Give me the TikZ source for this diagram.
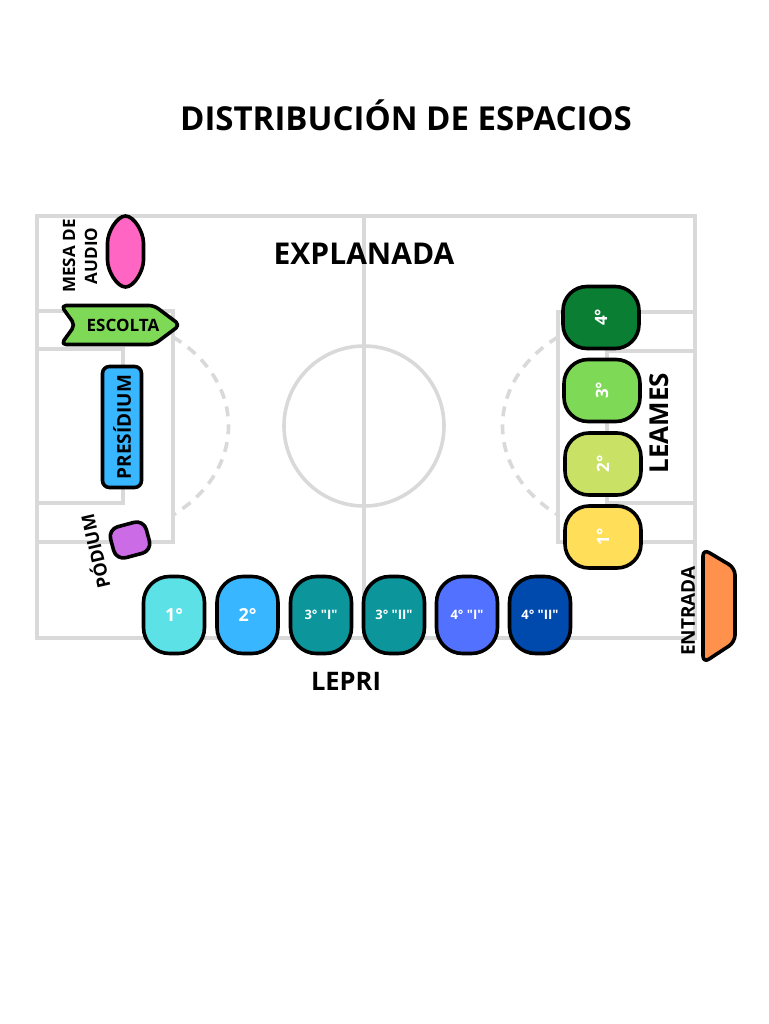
\documentclass[tikz,border=0pt]{standalone}
\usepackage{fontspec}
\setmainfont{Open Sans}[Ligatures=TeXOff]
\definecolor{linea}{HTML}{D9D9D9}
\definecolor{aqua}{HTML}{5CE1E6}
\definecolor{cielo}{HTML}{38B6FF}
\definecolor{petroleo}{HTML}{0C969C}
\definecolor{anil}{HTML}{5271FF}
\definecolor{marino}{HTML}{004AAD}
\definecolor{bosque}{HTML}{0A7F33}
\definecolor{pasto}{HTML}{7ED957}
\definecolor{lima}{HTML}{C9E265}
\definecolor{amarillo}{HTML}{FFDE59}
\definecolor{rosa}{HTML}{FF66C4}
\definecolor{lila}{HTML}{CB6CE6}
\definecolor{naranja}{HTML}{FF914D}
\tikzset{
	cancha/.style={draw=linea, line width=3.6pt},
	contorno/.style={draw=black, line width=3.6pt, line join=round},
	grupo/.style={contorno, rounded corners=26pt, font=\bfseries\fontsize{13}{13}\selectfont, text=white, inner sep=0pt},
	etiqueta/.style={font=\bfseries, text=black, inner sep=0pt, align=center}
}
\begin{document}
\begin{tikzpicture}[x=1pt, y=-1pt]
	\path [use as bounding box] (0,0) rectangle (768,1024);

	\node (titulo) at (406,115) [etiqueta] {\fontsize{33}{33}\selectfont DISTRIBUCIÓN DE ESPACIOS};

	% cancha
	\draw [cancha] (37,216) rectangle (695,638);
	\draw [cancha] (364,216) -- (364,638);
	\draw [cancha] (364,426) circle (80);
	\draw [cancha] (37,311) -- (173,311) -- (173,542) -- (37,542);
	\draw [cancha] (37,349) -- (123,349) -- (123,503) -- (37,503);
	\draw [cancha] (695,312) -- (558,312) -- (558,542) -- (695,542);
	\draw [cancha] (695,351) -- (607,351) -- (607,503) -- (695,503);
	\draw [cancha, dash pattern=on 10pt off 8pt] (173,337) .. controls (247,382) and (247,470) .. (173,515);
	\draw [cancha, dash pattern=on 10pt off 8pt] (558,337) .. controls (484,382) and (484,470) .. (558,515);

	\node (explanada) at (364,254) [etiqueta] {\fontsize{30}{30}\selectfont EXPLANADA};
	\node (lepri) at (346,681) [etiqueta] {\fontsize{25.5}{25.5}\selectfont LEPRI};
	\node (leames) at (659,423) [etiqueta, rotate=90] {\fontsize{26}{26}\selectfont LEAMES};

	% lepri
	\foreach \x/\nombre/\tono/\texto in {
		174/lepria/aqua/{\fontsize{18}{18}\selectfont 1°},
		247.5/leprib/cielo/{\fontsize{18}{18}\selectfont 2°},
		321/lepric/petroleo/3° "I",
		394/leprid/petroleo/3° "II",
		467/leprie/anil/4° "I",
		540/leprif/marino/4° "II"}
		\node (\nombre) at (\x,615) [grupo, fill=\tono, minimum width=61pt, minimum height=77pt] {\texto};

	% leames
	\foreach \x/\y/\nombre/\tono/\texto in {
		601/317.5/leamesd/bosque/4°,
		602/390.5/leamesc/pasto/3°,
		603/464/leamesb/lima/2°,
		603/537/leamesa/amarillo/1°}
		\node (\nombre) at (\x,\y) [grupo, fill=\tono, minimum width=76pt, minimum height=62pt, rounded corners=24pt] {\rotatebox{90}{\fontsize{17}{17}\selectfont\texto}};

	% izquierda
	\draw [contorno, fill=rosa]
		(125.5,216) .. controls (134,216) and (143.5,232) .. (143.5,243) -- (143.5,260)
		.. controls (143.5,271) and (134,287) .. (125.5,287)
		.. controls (117,287) and (107.5,271) .. (107.5,260) -- (107.5,243)
		.. controls (107.5,232) and (117,216) .. cycle;
	\node (mesa) at (80,256) [etiqueta, rotate=90, font=\bfseries\fontsize{17}{22}\selectfont] {MESA DE\\AUDIO};

	\draw [contorno, fill=pasto, rounded corners=5pt]
		(61,305.5) -- (154,305.5) -- (180,325) -- (154,344.5) -- (61,344.5) -- (75,325) -- cycle;
	\node (escolta) at (123,325) [etiqueta] {\fontsize{17}{17}\selectfont ESCOLTA};

	\node (presidium) at (122,427) [grupo, fill=cielo, minimum width=39pt, minimum height=121pt, rounded corners=7pt] {};
	\node (presidiumtexto) at (presidium) [etiqueta, rotate=90] {\fontsize{19}{19}\selectfont PRESÍDIUM};

	\node (podium) at (130,540) [grupo, fill=lila, rotate=15, minimum width=37pt, minimum height=32pt, rounded corners=10pt] {};
	\node (podiumtexto) at (94,552) [etiqueta, rotate=103] {\fontsize{18}{18}\selectfont PÓDIUM};

	% entrada
	\draw [contorno, fill=naranja, rounded corners=7pt]
		(703,549) -- (735,568) -- (735,642) -- (703,663) -- cycle;
	\node (entrada) at (688,611) [etiqueta, rotate=90] {\fontsize{19}{19}\selectfont ENTRADA};
\end{tikzpicture}
\end{document}
